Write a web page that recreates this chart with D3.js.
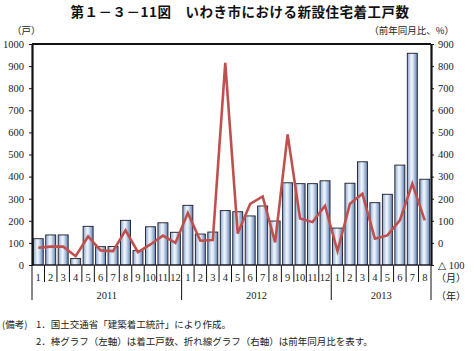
<!DOCTYPE html>
<html>
<head>
<meta charset="utf-8">
<script src="https://cdn.jsdelivr.net/npm/d3@7"></script>
<style>
  body { margin: 0; background: #fff; }
  svg { display: block; }
  .num { font-family: "Liberation Serif", "DejaVu Serif", serif; font-size: 10.5px; fill: #222; }
  .jp { font-family: "Noto Sans CJK JP", sans-serif; fill: #222; }
</style>
</head>
<body>
<div id="chart"></div>
<script>
// data
var monthLabels = ["1","2","3","4","5","6","7","8","9","10","11","12",
                   "1","2","3","4","5","6","7","8","9","10","11","12",
                   "1","2","3","4","5","6","7","8"];
var years = ["2011", "2012", "2013"];
var yearMonths = [12, 12, 8];
// 着工戸数 (戸) - left axis
var starts = [119,136,136,29,175,83,84,202,65,173,191,148,
              270,140,149,246,241,222,267,199,372,368,368,381,
              167,370,467,282,320,452,958,388];
// 前年同月比 (%) - right axis
var yoy = [-22,-17,-17,-60,29,-34,-37,57,-42,-7,33,0,
           135,10,13,815,42,177,210,2,491,110,94,168,
           -37,177,222,19,34,102,268,102];
var leftTicks = d3.range(0, 1001, 100);
var rightTicks = d3.range(-100, 901, 100);

var W = 474, H = 351;
var margin = {top: 44, right: 43, bottom: 86, left: 32};
var x0 = margin.left, x1 = W - margin.right, yTop = margin.top, yBot = H - margin.bottom;

var svg = d3.select("#chart").append("svg")
    .attr("width", W)
    .attr("height", H);

svg.append("rect").attr("width", W).attr("height", H).attr("fill", "#fff");

var x = d3.scaleBand()
    .domain(d3.range(starts.length))
    .range([x0, x1])
    .paddingInner(0.2)
    .paddingOuter(0.1);
var step = (x1 - x0) / starts.length;

var yL = d3.scaleLinear().domain([0, 1000]).range([yBot, yTop]);
var yR = d3.scaleLinear().domain([-100, 900]).range([yBot, yTop]);

// bar gradient
var grad = svg.append("defs").append("linearGradient")
    .attr("id", "barGrad")
    .attr("x1", "0%").attr("x2", "100%").attr("y1", "0%").attr("y2", "0%");
grad.append("stop").attr("offset", "0%").attr("stop-color", "#86a4cf");
grad.append("stop").attr("offset", "40%").attr("stop-color", "#f0f5fb");
grad.append("stop").attr("offset", "55%").attr("stop-color", "#dde7f4");
grad.append("stop").attr("offset", "100%").attr("stop-color", "#5f82b9");

// title
svg.append("text")
    .attr("class", "jp")
    .attr("x", 240).attr("y", 17)
    .attr("text-anchor", "middle")
    .style("font-size", "13.5px")
    .style("font-weight", "bold")
    .style("letter-spacing", "0.5px")
    .style("fill", "#111")
    .text("第１－３－11図　いわき市における新設住宅着工戸数");

svg.append("text").attr("class", "jp")
    .attr("x", 12).attr("y", 34)
    .style("font-size", "9.5px")
    .text("（戸）");
svg.append("text").attr("class", "jp")
    .attr("x", 454).attr("y", 34)
    .attr("text-anchor", "end")
    .style("font-size", "9.5px")
    .text("（前年同月比、%）");

// bars
svg.append("g").selectAll("rect")
    .data(starts)
    .enter().append("rect")
    .attr("x", function(d, i) { return x(i); })
    .attr("y", function(d) { return yL(d); })
    .attr("width", x.bandwidth())
    .attr("height", function(d) { return yBot - yL(d); })
    .attr("fill", "url(#barGrad)")
    .attr("stroke", "#1c1c28")
    .attr("stroke-width", 0.9);

// baseline
svg.append("line")
    .attr("x1", x0).attr("x2", x1)
    .attr("y1", yBot).attr("y2", yBot)
    .attr("stroke", "#111").attr("stroke-width", 1);

// line
var line = d3.line()
    .x(function(d, i) { return x(i) + x.bandwidth() / 2; })
    .y(function(d) { return yR(d); });

svg.append("path")
    .datum(yoy)
    .attr("d", line)
    .attr("fill", "none")
    .attr("stroke", "#c0504d")
    .attr("stroke-width", 2.6);

// frame top
svg.append("line")
    .attr("x1", x0).attr("x2", x1)
    .attr("y1", yTop).attr("y2", yTop)
    .attr("stroke", "#111").attr("stroke-width", 2);

// axes
var axL = svg.append("g")
    .attr("transform", "translate(" + x0 + ",0)")
    .call(d3.axisLeft(yL).tickValues(leftTicks).tickSize(3).tickPadding(5).tickSizeOuter(0)
        .tickFormat(d3.format("d")));
var axR = svg.append("g")
    .attr("transform", "translate(" + x1 + ",0)")
    .call(d3.axisRight(yR).tickValues(rightTicks).tickSize(3).tickPadding(4).tickSizeOuter(0)
        .tickFormat(function(d) { return d < 0 ? "△ " + (-d) : d; }));

[axL, axR].forEach(function(ax) {
    ax.select(".domain").attr("stroke", "#111").attr("stroke-width", 2.2);
    ax.selectAll(".tick line").attr("stroke", "#111");
    ax.selectAll(".tick text").attr("class", "num").attr("font-family", null).attr("font-size", null);
});

// month separators and year separators
var yearStarts = [0, 12, 24, 32];
var sep = svg.append("g");
d3.range(0, starts.length + 1).forEach(function(i) {
    var isYear = yearStarts.indexOf(i) >= 0;
    sep.append("line")
        .attr("x1", x0 + i * step).attr("x2", x0 + i * step)
        .attr("y1", yBot).attr("y2", isYear ? 300 : 282)
        .attr("stroke", "#111").attr("stroke-width", 1);
});

// month labels
svg.append("g").selectAll("text")
    .data(monthLabels)
    .enter().append("text")
    .attr("class", "num")
    .attr("x", function(d, i) { return x(i) + x.bandwidth() / 2; })
    .attr("y", 281)
    .attr("text-anchor", "middle")
    .text(function(d) { return d; });

// year labels
var acc = 0;
years.forEach(function(yr, k) {
    var cx = x0 + (acc + yearMonths[k] / 2) * step;
    acc += yearMonths[k];
    svg.append("text")
        .attr("class", "num")
        .attr("x", cx).attr("y", 299)
        .attr("text-anchor", "middle")
        .text(yr);
});

svg.append("text").attr("class", "jp")
    .attr("x", 436).attr("y", 282)
    .style("font-size", "10px")
    .text("（月）");
svg.append("text").attr("class", "jp")
    .attr("x", 436).attr("y", 300)
    .style("font-size", "10px")
    .text("（年）");

// notes
var notes = svg.append("g").attr("class", "jp").style("font-size", "9.5px");
notes.append("text").attr("x", 2).attr("y", 328).text("(備考)");
notes.append("text").attr("x", 36).attr("y", 328).text("1．国土交通省「建築着工統計」により作成。");
notes.append("text").attr("x", 36).attr("y", 345).text("2．棒グラフ（左軸）は着工戸数、折れ線グラフ（右軸）は前年同月比を表す。");
</script>
</body>
</html>
